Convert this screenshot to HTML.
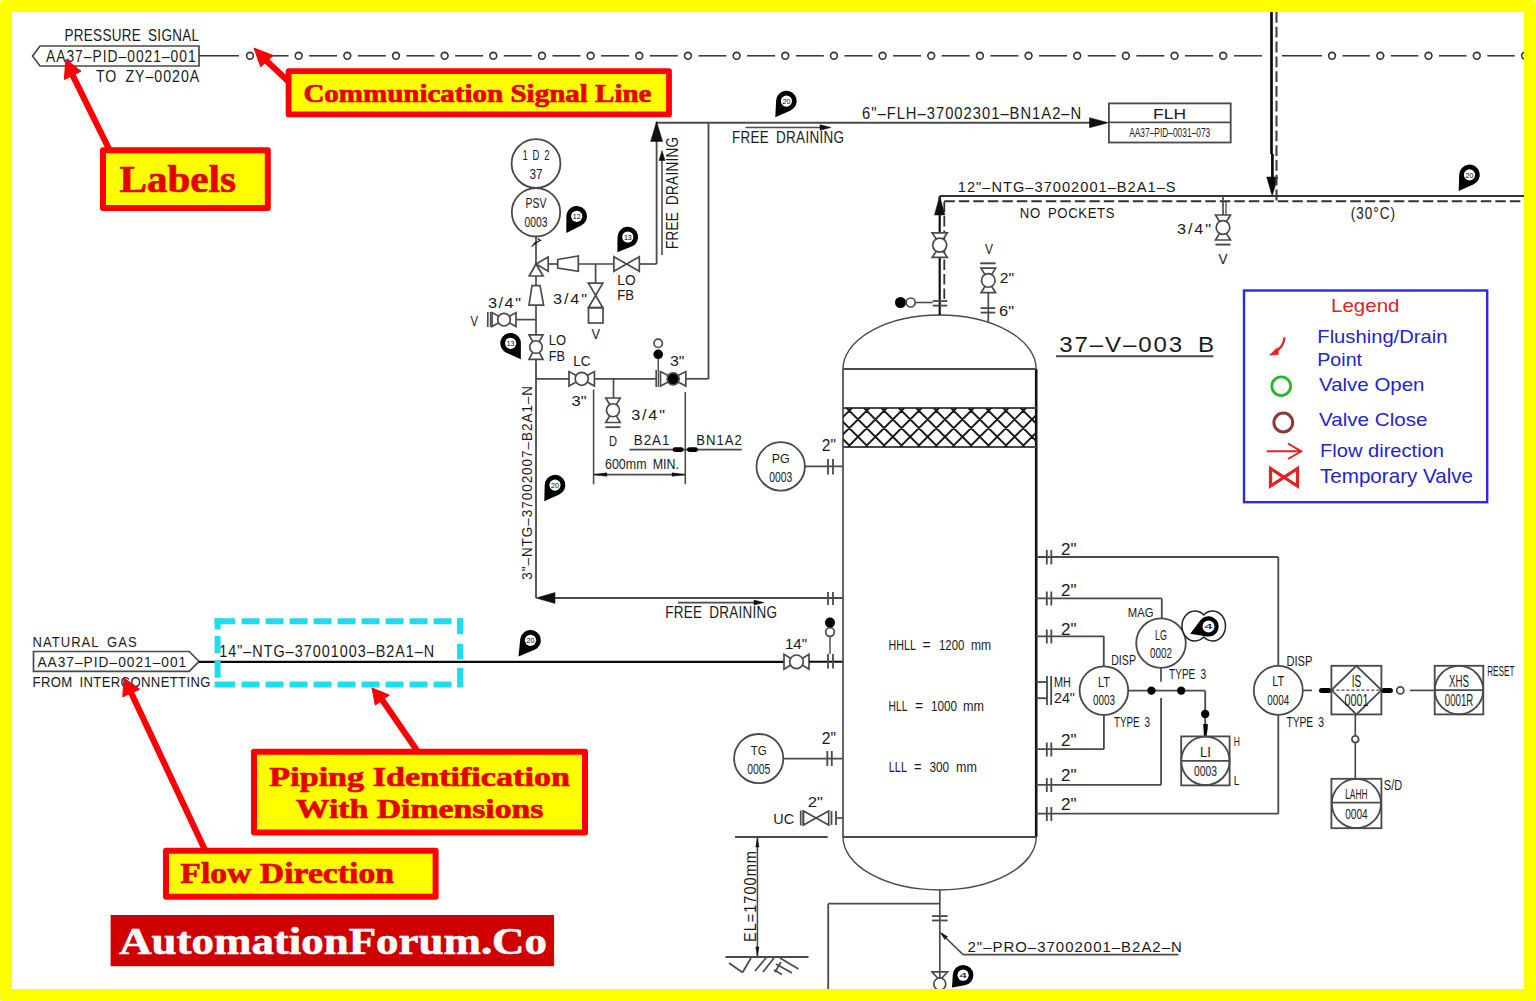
<!DOCTYPE html><html><head><meta charset="utf-8"><style>html,body{margin:0;padding:0;background:#fff;width:1536px;height:1001px;overflow:hidden}svg{display:block}</style></head><body>
<svg width="1536" height="1001" viewBox="0 0 1536 1001">
<rect x="0" y="0" width="1536" height="1001" fill="#fff"/>
<text transform="translate(64.5,40.5) scale(0.86,1)" x="0" y="0" font-family='"Liberation Sans", sans-serif' font-size="15.7" fill="#1a1a1a" textLength="156.4" lengthAdjust="spacing">PRESSURE SIGNAL</text>
<polygon points="32.5,56 40,46 199,46 199,66 40,66" stroke="#4a4a4a" stroke-width="1.69" fill="none" stroke-linejoin="miter"/>
<text transform="translate(46,61.5) scale(0.88,1)" x="0" y="0" font-family='"Liberation Sans", sans-serif' font-size="15.7" fill="#1a1a1a" textLength="170.08" lengthAdjust="spacing">AA37–PID–0021–001</text>
<text transform="translate(96,82) scale(0.9,1)" x="0" y="0" font-family='"Liberation Sans", sans-serif' font-size="15.7" fill="#1a1a1a" textLength="114.68" lengthAdjust="spacing">TO ZY–0020A</text>
<line x1="199" y1="55.8" x2="239" y2="55.8" stroke="#333" stroke-width="1.5"/>
<circle cx="250" cy="55.8" r="3.4" stroke="#333" stroke-width="1.6" fill="#fff"/>
<line x1="260.5" y1="55.8" x2="288.5" y2="55.8" stroke="#333" stroke-width="1.5"/>
<circle cx="298.66" cy="55.8" r="3.4" stroke="#333" stroke-width="1.6" fill="#fff"/>
<line x1="309.16" y1="55.8" x2="337.16" y2="55.8" stroke="#333" stroke-width="1.5"/>
<circle cx="347.32" cy="55.8" r="3.4" stroke="#333" stroke-width="1.6" fill="#fff"/>
<line x1="357.82" y1="55.8" x2="385.82" y2="55.8" stroke="#333" stroke-width="1.5"/>
<circle cx="395.98" cy="55.8" r="3.4" stroke="#333" stroke-width="1.6" fill="#fff"/>
<line x1="406.48" y1="55.8" x2="434.48" y2="55.8" stroke="#333" stroke-width="1.5"/>
<circle cx="444.64" cy="55.8" r="3.4" stroke="#333" stroke-width="1.6" fill="#fff"/>
<line x1="455.14" y1="55.8" x2="483.14" y2="55.8" stroke="#333" stroke-width="1.5"/>
<circle cx="493.3" cy="55.8" r="3.4" stroke="#333" stroke-width="1.6" fill="#fff"/>
<line x1="503.8" y1="55.8" x2="531.8" y2="55.8" stroke="#333" stroke-width="1.5"/>
<circle cx="541.96" cy="55.8" r="3.4" stroke="#333" stroke-width="1.6" fill="#fff"/>
<line x1="552.46" y1="55.8" x2="580.46" y2="55.8" stroke="#333" stroke-width="1.5"/>
<circle cx="590.62" cy="55.8" r="3.4" stroke="#333" stroke-width="1.6" fill="#fff"/>
<line x1="601.12" y1="55.8" x2="629.12" y2="55.8" stroke="#333" stroke-width="1.5"/>
<circle cx="639.28" cy="55.8" r="3.4" stroke="#333" stroke-width="1.6" fill="#fff"/>
<line x1="649.78" y1="55.8" x2="677.78" y2="55.8" stroke="#333" stroke-width="1.5"/>
<circle cx="687.94" cy="55.8" r="3.4" stroke="#333" stroke-width="1.6" fill="#fff"/>
<line x1="698.44" y1="55.8" x2="726.44" y2="55.8" stroke="#333" stroke-width="1.5"/>
<circle cx="736.6" cy="55.8" r="3.4" stroke="#333" stroke-width="1.6" fill="#fff"/>
<line x1="747.1" y1="55.8" x2="775.1" y2="55.8" stroke="#333" stroke-width="1.5"/>
<circle cx="785.26" cy="55.8" r="3.4" stroke="#333" stroke-width="1.6" fill="#fff"/>
<line x1="795.76" y1="55.8" x2="823.76" y2="55.8" stroke="#333" stroke-width="1.5"/>
<circle cx="833.92" cy="55.8" r="3.4" stroke="#333" stroke-width="1.6" fill="#fff"/>
<line x1="844.42" y1="55.8" x2="872.42" y2="55.8" stroke="#333" stroke-width="1.5"/>
<circle cx="882.58" cy="55.8" r="3.4" stroke="#333" stroke-width="1.6" fill="#fff"/>
<line x1="893.08" y1="55.8" x2="921.08" y2="55.8" stroke="#333" stroke-width="1.5"/>
<circle cx="931.24" cy="55.8" r="3.4" stroke="#333" stroke-width="1.6" fill="#fff"/>
<line x1="941.74" y1="55.8" x2="969.74" y2="55.8" stroke="#333" stroke-width="1.5"/>
<circle cx="979.9" cy="55.8" r="3.4" stroke="#333" stroke-width="1.6" fill="#fff"/>
<line x1="990.4" y1="55.8" x2="1018.4" y2="55.8" stroke="#333" stroke-width="1.5"/>
<circle cx="1028.56" cy="55.8" r="3.4" stroke="#333" stroke-width="1.6" fill="#fff"/>
<line x1="1039.06" y1="55.8" x2="1067.06" y2="55.8" stroke="#333" stroke-width="1.5"/>
<circle cx="1077.22" cy="55.8" r="3.4" stroke="#333" stroke-width="1.6" fill="#fff"/>
<line x1="1087.72" y1="55.8" x2="1115.72" y2="55.8" stroke="#333" stroke-width="1.5"/>
<circle cx="1125.88" cy="55.8" r="3.4" stroke="#333" stroke-width="1.6" fill="#fff"/>
<line x1="1136.38" y1="55.8" x2="1164.38" y2="55.8" stroke="#333" stroke-width="1.5"/>
<circle cx="1174.54" cy="55.8" r="3.4" stroke="#333" stroke-width="1.6" fill="#fff"/>
<line x1="1185.04" y1="55.8" x2="1213.04" y2="55.8" stroke="#333" stroke-width="1.5"/>
<circle cx="1223.2" cy="55.8" r="3.4" stroke="#333" stroke-width="1.6" fill="#fff"/>
<line x1="1234" y1="55.8" x2="1262" y2="55.8" stroke="#333" stroke-width="1.5"/>
<line x1="1282" y1="55.8" x2="1322" y2="55.8" stroke="#333" stroke-width="1.5"/>
<circle cx="1332" cy="55.8" r="3.4" stroke="#333" stroke-width="1.6" fill="#fff"/>
<line x1="1342.5" y1="55.8" x2="1370" y2="55.8" stroke="#333" stroke-width="1.5"/>
<circle cx="1380.3" cy="55.8" r="3.4" stroke="#333" stroke-width="1.6" fill="#fff"/>
<line x1="1390.8" y1="55.8" x2="1418.3" y2="55.8" stroke="#333" stroke-width="1.5"/>
<circle cx="1428.5" cy="55.8" r="3.4" stroke="#333" stroke-width="1.6" fill="#fff"/>
<line x1="1439" y1="55.8" x2="1466.5" y2="55.8" stroke="#333" stroke-width="1.5"/>
<circle cx="1476.8" cy="55.8" r="3.4" stroke="#333" stroke-width="1.6" fill="#fff"/>
<line x1="1487.3" y1="55.8" x2="1514.8" y2="55.8" stroke="#333" stroke-width="1.5"/>
<circle cx="1525" cy="55.8" r="3.4" stroke="#333" stroke-width="1.6" fill="#fff"/>
<line x1="1271.5" y1="12" x2="1271.5" y2="154" stroke="#0a0a0a" stroke-width="2.7"/>
<line x1="1272.4" y1="154" x2="1272.4" y2="182" stroke="#0a0a0a" stroke-width="2.7"/>
<polygon points="1272.2,196 1266.7,177 1277.7,177" stroke="#0a0a0a" stroke-width="0.5" fill="#0a0a0a" stroke-linejoin="miter"/>
<line x1="1276.5" y1="12" x2="1276.5" y2="201.2" stroke="#444" stroke-width="2.1" stroke-dasharray="10.8,4"/>
<line x1="656.6" y1="122.7" x2="1092" y2="122.7" stroke="#4a4a4a" stroke-width="2.08"/>
<polygon points="1108.5,122.7 1089.5,127.7 1089.5,117.7" stroke="#111" stroke-width="0.5" fill="#111" stroke-linejoin="miter"/>
<line x1="656.6" y1="122" x2="656.6" y2="264" stroke="#4a4a4a" stroke-width="1.82"/>
<polygon points="656.6,121.5 662.6,141.5 650.6,141.5" stroke="#111" stroke-width="0.5" fill="#111" stroke-linejoin="miter"/>
<line x1="662" y1="255" x2="662" y2="158" stroke="#4a4a4a" stroke-width="1.56"/>
<polygon points="662,150.5 665,160.5 659,160.5" stroke="#111" stroke-width="0.5" fill="#111" stroke-linejoin="miter"/>
<text transform="translate(677.9,249) rotate(-90) scale(0.86,1)" x="0" y="0" font-family='"Liberation Sans", sans-serif' font-size="15.7" fill="#1a1a1a" textLength="130.23" lengthAdjust="spacing">FREE DRAINING</text>
<line x1="708.5" y1="122" x2="708.5" y2="379" stroke="#4a4a4a" stroke-width="1.82"/>
<path d="M775.3,117.3 L776.11,100.6 A10.3,10.3 0 1 1 790.58,110.51 Z" fill="#000"/>
<circle cx="786.4" cy="101.1" r="5.6" fill="#fff"/>
<text x="786.4" y="104.1" font-family='"Liberation Sans", sans-serif' font-size="8" fill="#000" text-anchor="middle" textLength="7.84" lengthAdjust="spacingAndGlyphs">20</text>
<line x1="745.5" y1="127.5" x2="822" y2="127.5" stroke="#4a4a4a" stroke-width="1.69"/>
<polygon points="831,127.5 820,130.25 820,124.75" stroke="#111" stroke-width="0.5" fill="#111" stroke-linejoin="miter"/>
<text transform="translate(732,143) scale(0.86,1)" x="0" y="0" font-family='"Liberation Sans", sans-serif' font-size="15.7" fill="#1a1a1a" textLength="130.23" lengthAdjust="spacing">FREE DRAINING</text>
<text transform="translate(862,118.5) scale(0.94,1)" x="0" y="0" font-family='"Liberation Sans", sans-serif' font-size="15.7" fill="#1a1a1a" textLength="233.23" lengthAdjust="spacing">6"–FLH–37002301–BN1A2–N</text>
<rect x="1108.9" y="103.4" width="121.8" height="39.1" stroke="#4a4a4a" stroke-width="1.82" fill="none"/>
<line x1="1108.9" y1="122.4" x2="1230.7" y2="122.4" stroke="#4a4a4a" stroke-width="1.82"/>
<text transform="translate(1153,118.5) scale(1,1)" x="0" y="0" font-family='"Liberation Sans", sans-serif' font-size="15.26" fill="#1a1a1a" textLength="33" lengthAdjust="spacingAndGlyphs">FLH</text>
<text transform="translate(1129.2,137.3) scale(0.86,1)" x="0" y="0" font-family='"Liberation Sans", sans-serif' font-size="13.52" fill="#1a1a1a" textLength="94.19" lengthAdjust="spacingAndGlyphs">AA37–PID–0031–073</text>
<circle cx="536" cy="163.5" r="24.4" stroke="#4a4a4a" stroke-width="1.82" fill="none"/>
<text transform="translate(522.5,160) scale(0.86,1)" x="0" y="0" font-family='"Liberation Sans", sans-serif' font-size="13.81" fill="#1a1a1a" textLength="31.4" lengthAdjust="spacingAndGlyphs">1 D 2</text>
<text transform="translate(529.5,179) scale(0.85,1)" x="0" y="0" font-family='"Liberation Sans", sans-serif' font-size="13.81" fill="#1a1a1a" textLength="15.36" lengthAdjust="spacingAndGlyphs">37</text>
<circle cx="536" cy="212.3" r="24.2" stroke="#4a4a4a" stroke-width="1.82" fill="none"/>
<text transform="translate(525.5,208) scale(0.76,1)" x="0" y="0" font-family='"Liberation Sans", sans-serif' font-size="13.81" fill="#1a1a1a" textLength="27.63" lengthAdjust="spacingAndGlyphs">PSV</text>
<text transform="translate(524.5,227) scale(0.86,1)" x="0" y="0" font-family='"Liberation Sans", sans-serif' font-size="13.81" fill="#1a1a1a" textLength="26.74" lengthAdjust="spacingAndGlyphs">0003</text>
<line x1="536" y1="236.5" x2="536" y2="264" stroke="#4a4a4a" stroke-width="1.69"/>
<polyline points="531.5,246.5 538,241.5 533.5,243.5 540.5,240.5 537.5,238.5" fill="none" stroke="#222" stroke-width="1.3"/>
<polygon points="536,264 548.2,257 548.2,271.3" stroke="#4a4a4a" stroke-width="1.69" fill="none" stroke-linejoin="miter"/>
<polygon points="536,264 529.2,276 543.1,276" stroke="#4a4a4a" stroke-width="1.69" fill="none" stroke-linejoin="miter"/>
<line x1="548.2" y1="264" x2="557.7" y2="264" stroke="#4a4a4a" stroke-width="1.69"/>
<polygon points="557.7,259.5 578.3,256 578.3,271.3 557.7,268" stroke="#4a4a4a" stroke-width="1.69" fill="none" stroke-linejoin="miter"/>
<line x1="578.3" y1="264" x2="613.9" y2="264" stroke="#4a4a4a" stroke-width="1.69"/>
<line x1="595.6" y1="264" x2="595.6" y2="283.2" stroke="#4a4a4a" stroke-width="1.69"/>
<polygon points="588.4,283.2 602.8,283.2 595.6,295.45" stroke="#4a4a4a" stroke-width="1.69" fill="none" stroke-linejoin="miter"/>
<polygon points="588.4,307.7 602.8,307.7 595.6,295.45" stroke="#4a4a4a" stroke-width="1.69" fill="none" stroke-linejoin="miter"/>
<rect x="588.5" y="307.7" width="14.5" height="15.3" stroke="#4a4a4a" stroke-width="1.69" fill="none"/>
<text transform="translate(591.5,339) scale(0.88,1)" x="0" y="0" font-family='"Liberation Sans", sans-serif' font-size="14.53" fill="#1a1a1a" textLength="9.69" lengthAdjust="spacingAndGlyphs">V</text>
<text transform="translate(553,303.5) scale(1.12,1)" x="0" y="0" font-family='"Liberation Sans", sans-serif' font-size="14.53" fill="#1a1a1a" textLength="30.36" lengthAdjust="spacing">3/4"</text>
<polygon points="613.9,256.8 613.9,271.2 626.6,264" stroke="#4a4a4a" stroke-width="1.69" fill="none" stroke-linejoin="miter"/>
<polygon points="639.3,256.8 639.3,271.2 626.6,264" stroke="#4a4a4a" stroke-width="1.69" fill="none" stroke-linejoin="miter"/>
<line x1="639.3" y1="264" x2="656.6" y2="264" stroke="#4a4a4a" stroke-width="1.69"/>
<text transform="translate(617.3,284.9) scale(0.98,1)" x="0" y="0" font-family='"Liberation Sans", sans-serif' font-size="13.95" fill="#1a1a1a" textLength="18.61" lengthAdjust="spacingAndGlyphs">LO</text>
<text transform="translate(617.3,300) scale(0.92,1)" x="0" y="0" font-family='"Liberation Sans", sans-serif' font-size="14.24" fill="#1a1a1a" textLength="18.2" lengthAdjust="spacingAndGlyphs">FB</text>
<line x1="536" y1="276" x2="536" y2="285.7" stroke="#4a4a4a" stroke-width="1.69"/>
<polygon points="532,285.7 540,285.7 543.6,305.2 529,305.2" stroke="#4a4a4a" stroke-width="1.69" fill="none" stroke-linejoin="miter"/>
<line x1="536" y1="305.2" x2="536" y2="334.8" stroke="#4a4a4a" stroke-width="1.69"/>
<line x1="516" y1="319.6" x2="536" y2="319.6" stroke="#4a4a4a" stroke-width="1.69"/>
<polygon points="492,312.6 492,326.6 499.2,322.6 499.2,316.6" stroke="#4a4a4a" stroke-width="1.69" fill="#fff" stroke-linejoin="miter"/>
<polygon points="516,312.6 516,326.6 508.8,322.6 508.8,316.6" stroke="#4a4a4a" stroke-width="1.69" fill="#fff" stroke-linejoin="miter"/>
<circle cx="504" cy="319.6" r="6.3" stroke="#4a4a4a" stroke-width="1.69" fill="#fff"/>
<line x1="487.8" y1="312" x2="487.8" y2="327" stroke="#4a4a4a" stroke-width="1.69"/>
<line x1="490.5" y1="312" x2="490.5" y2="327" stroke="#4a4a4a" stroke-width="1.3"/>
<text transform="translate(470.5,325.5) scale(0.77,1)" x="0" y="0" font-family='"Liberation Sans", sans-serif' font-size="14.53" fill="#1a1a1a" textLength="9.69" lengthAdjust="spacingAndGlyphs">V</text>
<text transform="translate(488,308) scale(1.12,1)" x="0" y="0" font-family='"Liberation Sans", sans-serif' font-size="14.53" fill="#1a1a1a" textLength="29.46" lengthAdjust="spacing">3/4"</text>
<polygon points="529,334.8 543,334.8 539,342.25 533,342.25" stroke="#4a4a4a" stroke-width="1.69" fill="#fff" stroke-linejoin="miter"/>
<polygon points="529,359.3 543,359.3 539,351.85 533,351.85" stroke="#4a4a4a" stroke-width="1.69" fill="#fff" stroke-linejoin="miter"/>
<circle cx="536" cy="347.05" r="6.3" stroke="#4a4a4a" stroke-width="1.69" fill="#fff"/>
<text transform="translate(548.7,345) scale(0.94,1)" x="0" y="0" font-family='"Liberation Sans", sans-serif' font-size="13.81" fill="#1a1a1a" textLength="18.42" lengthAdjust="spacingAndGlyphs">LO</text>
<text transform="translate(548.7,361) scale(0.92,1)" x="0" y="0" font-family='"Liberation Sans", sans-serif' font-size="13.81" fill="#1a1a1a" textLength="17.64" lengthAdjust="spacingAndGlyphs">FB</text>
<path d="M566.3,233 L566.4,216.24 A10.3,10.3 0 1 1 581.3,225.52 Z" fill="#000"/>
<circle cx="576.7" cy="216.3" r="5.6" fill="#fff"/>
<text x="576.7" y="219.3" font-family='"Liberation Sans", sans-serif' font-size="8" fill="#000" text-anchor="middle" textLength="7.84" lengthAdjust="spacingAndGlyphs">12</text>
<path d="M617.4,252.2 L617.5,236.93 A10.3,10.3 0 1 1 631.59,246.58 Z" fill="#000"/>
<circle cx="627.8" cy="237" r="5.6" fill="#fff"/>
<text x="627.8" y="240" font-family='"Liberation Sans", sans-serif' font-size="8" fill="#000" text-anchor="middle" textLength="7.84" lengthAdjust="spacingAndGlyphs">13</text>
<path d="M520.8,359.3 L506.31,352.66 A10.3,10.3 0 1 1 520.9,343.36 Z" fill="#000"/>
<circle cx="510.6" cy="343.3" r="5.6" fill="#fff"/>
<text x="510.6" y="346.3" font-family='"Liberation Sans", sans-serif' font-size="8" fill="#000" text-anchor="middle" textLength="7.84" lengthAdjust="spacingAndGlyphs">13</text>
<line x1="536" y1="359.3" x2="536" y2="598" stroke="#4a4a4a" stroke-width="1.82"/>
<line x1="536" y1="378.8" x2="569" y2="378.8" stroke="#4a4a4a" stroke-width="1.69"/>
<polygon points="569,371.6 569,386 576.7,381.8 576.7,375.8" stroke="#4a4a4a" stroke-width="1.69" fill="#fff" stroke-linejoin="miter"/>
<polygon points="594.4,371.6 594.4,386 586.7,381.8 586.7,375.8" stroke="#4a4a4a" stroke-width="1.69" fill="#fff" stroke-linejoin="miter"/>
<circle cx="581.7" cy="378.8" r="6.5" stroke="#4a4a4a" stroke-width="1.69" fill="#fff"/>
<text transform="translate(573.2,366.1) scale(0.98,1)" x="0" y="0" font-family='"Liberation Sans", sans-serif' font-size="13.81" fill="#1a1a1a" textLength="17.65" lengthAdjust="spacingAndGlyphs">LC</text>
<text transform="translate(571.5,406.4) scale(1,1)" x="0" y="0" font-family='"Liberation Sans", sans-serif' font-size="14.53" fill="#1a1a1a" textLength="15" lengthAdjust="spacingAndGlyphs">3"</text>
<line x1="594.4" y1="378.8" x2="656.2" y2="378.8" stroke="#4a4a4a" stroke-width="1.69"/>
<line x1="613.5" y1="378.8" x2="613.5" y2="398" stroke="#4a4a4a" stroke-width="1.69"/>
<polygon points="605.8,398 620.2,398 616,405.25 610,405.25" stroke="#4a4a4a" stroke-width="1.69" fill="#fff" stroke-linejoin="miter"/>
<polygon points="605.8,422.5 620.2,422.5 616,415.25 610,415.25" stroke="#4a4a4a" stroke-width="1.69" fill="#fff" stroke-linejoin="miter"/>
<circle cx="613" cy="410.25" r="6.5" stroke="#4a4a4a" stroke-width="1.69" fill="#fff"/>
<line x1="605.5" y1="427.2" x2="620.5" y2="427.2" stroke="#4a4a4a" stroke-width="1.82"/>
<text transform="translate(609,445.8) scale(0.78,1)" x="0" y="0" font-family='"Liberation Sans", sans-serif' font-size="14.24" fill="#1a1a1a" textLength="10.29" lengthAdjust="spacingAndGlyphs">D</text>
<text transform="translate(631.2,419.5) scale(1.12,1)" x="0" y="0" font-family='"Liberation Sans", sans-serif' font-size="14.53" fill="#1a1a1a" textLength="30.18" lengthAdjust="spacing">3/4"</text>
<line x1="656.2" y1="370" x2="656.2" y2="387" stroke="#4a4a4a" stroke-width="1.69"/>
<line x1="658.4" y1="370" x2="658.4" y2="387" stroke="#4a4a4a" stroke-width="1.3"/>
<polygon points="660.5,371.6 660.5,386 668.65,381.8 668.65,375.8" stroke="#4a4a4a" stroke-width="1.69" fill="#fff" stroke-linejoin="miter"/>
<polygon points="685.8,371.6 685.8,386 677.65,381.8 677.65,375.8" stroke="#4a4a4a" stroke-width="1.69" fill="#fff" stroke-linejoin="miter"/>
<circle cx="673.15" cy="378.8" r="6" stroke="#4a4a4a" stroke-width="1.69" fill="#000"/>
<line x1="685.8" y1="378.8" x2="708.5" y2="378.8" stroke="#4a4a4a" stroke-width="1.69"/>
<line x1="658.2" y1="370" x2="658.2" y2="358.5" stroke="#4a4a4a" stroke-width="1.43"/>
<circle cx="658.2" cy="354.3" r="4.8" fill="#000"/>
<circle cx="658.2" cy="343.3" r="4.2" stroke="#4a4a4a" stroke-width="1.69" fill="#fff"/>
<text transform="translate(670,366) scale(1,1)" x="0" y="0" font-family='"Liberation Sans", sans-serif' font-size="13.81" fill="#1a1a1a" textLength="14.5" lengthAdjust="spacingAndGlyphs">3"</text>
<line x1="593.6" y1="389.5" x2="593.6" y2="484.3" stroke="#4a4a4a" stroke-width="1.56"/>
<line x1="685.3" y1="392" x2="685.3" y2="484.3" stroke="#4a4a4a" stroke-width="1.56"/>
<line x1="594" y1="474.6" x2="685" y2="474.6" stroke="#4a4a4a" stroke-width="1.56"/>
<polygon points="593.8,474.6 606.8,472.85 606.8,476.35" stroke="#111" stroke-width="0.5" fill="#111" stroke-linejoin="miter"/>
<polygon points="685.1,474.6 672.1,476.35 672.1,472.85" stroke="#111" stroke-width="0.5" fill="#111" stroke-linejoin="miter"/>
<text transform="translate(605,469) scale(0.86,1)" x="0" y="0" font-family='"Liberation Sans", sans-serif' font-size="14.83" fill="#1a1a1a" textLength="86.05" lengthAdjust="spacingAndGlyphs">600mm MIN.</text>
<text transform="translate(633.7,445.3) scale(0.97,1)" x="0" y="0" font-family='"Liberation Sans", sans-serif' font-size="13.81" fill="#1a1a1a" textLength="36.89" lengthAdjust="spacing">B2A1</text>
<text transform="translate(696.3,445.3) scale(0.95,1)" x="0" y="0" font-family='"Liberation Sans", sans-serif' font-size="13.81" fill="#1a1a1a" textLength="47.98" lengthAdjust="spacing">BN1A2</text>
<line x1="629.5" y1="449.6" x2="741.7" y2="449.6" stroke="#4a4a4a" stroke-width="1.69"/>
<rect x="672.6" y="447.3" width="11" height="4.6" rx="2.3" fill="#000"/>
<rect x="687" y="447.3" width="11" height="4.6" rx="2.3" fill="#000"/>
<path d="M544.3,501.2 L544.7,484.85 A10.3,10.3 0 1 1 559.22,494.5 Z" fill="#000"/>
<circle cx="555" cy="485.1" r="5.6" fill="#fff"/>
<text x="555" y="488.1" font-family='"Liberation Sans", sans-serif' font-size="8" fill="#000" text-anchor="middle" textLength="7.84" lengthAdjust="spacingAndGlyphs">20</text>
<text transform="translate(532.05,579.8) rotate(-90) scale(0.88,1)" x="0" y="0" font-family='"Liberation Sans", sans-serif' font-size="15.26" fill="#1a1a1a" textLength="220.29" lengthAdjust="spacing">3"–NTG–37002007–B2A1–N</text>
<line x1="540" y1="598" x2="843" y2="598" stroke="#4a4a4a" stroke-width="1.82"/>
<polygon points="536,598 555,592.5 555,603.5" stroke="#111" stroke-width="0.5" fill="#111" stroke-linejoin="miter"/>
<line x1="828" y1="592" x2="828" y2="605" stroke="#4a4a4a" stroke-width="1.82"/>
<line x1="833" y1="592" x2="833" y2="605" stroke="#4a4a4a" stroke-width="1.82"/>
<line x1="678" y1="602.6" x2="756" y2="602.6" stroke="#4a4a4a" stroke-width="1.56"/>
<polygon points="764,602.6 754,605.1 754,600.1" stroke="#111" stroke-width="0.5" fill="#111" stroke-linejoin="miter"/>
<text transform="translate(665.2,618.4) scale(0.86,1)" x="0" y="0" font-family='"Liberation Sans", sans-serif' font-size="15.7" fill="#1a1a1a" textLength="130" lengthAdjust="spacing">FREE DRAINING</text>
<path d="M518.5,656.6 L520.25,639.26 A10.3,10.3 0 1 1 534.53,649.78 Z" fill="#000"/>
<circle cx="530.5" cy="640.3" r="5.6" fill="#fff"/>
<text x="530.5" y="643.3" font-family='"Liberation Sans", sans-serif' font-size="8" fill="#000" text-anchor="middle" textLength="7.84" lengthAdjust="spacingAndGlyphs">20</text>
<text transform="translate(32.6,647.3) scale(0.88,1)" x="0" y="0" font-family='"Liberation Sans", sans-serif' font-size="14.83" fill="#1a1a1a" textLength="118.2" lengthAdjust="spacing">NATURAL GAS</text>
<polygon points="33.5,651.5 189.2,651.5 199.1,661.4 189.2,671.3 33.5,671.3" stroke="#4a4a4a" stroke-width="1.69" fill="none" stroke-linejoin="miter"/>
<text transform="translate(37.4,667.4) scale(0.9,1)" x="0" y="0" font-family='"Liberation Sans", sans-serif' font-size="15.26" fill="#1a1a1a" textLength="165.4" lengthAdjust="spacing">AA37–PID–0021–001</text>
<text transform="translate(32.6,686.9) scale(0.86,1)" x="0" y="0" font-family='"Liberation Sans", sans-serif' font-size="15.26" fill="#1a1a1a" textLength="206.86" lengthAdjust="spacing">FROM INTERCONNETTING</text>
<line x1="199" y1="661.8" x2="784" y2="661.8" stroke="#0a0a0a" stroke-width="2.3"/>
<text transform="translate(219.2,657.4) scale(0.9,1)" x="0" y="0" font-family='"Liberation Sans", sans-serif' font-size="15.99" fill="#1a1a1a" textLength="238.93" lengthAdjust="spacing">14"–NTG–37001003–B2A1–N</text>
<polygon points="784,654.3 784,669.3 791.2,664.8 791.2,658.8" stroke="#4a4a4a" stroke-width="1.69" fill="#fff" stroke-linejoin="miter"/>
<polygon points="809,654.3 809,669.3 801.8,664.8 801.8,658.8" stroke="#4a4a4a" stroke-width="1.69" fill="#fff" stroke-linejoin="miter"/>
<circle cx="796.5" cy="661.8" r="6.8" stroke="#4a4a4a" stroke-width="1.69" fill="#fff"/>
<line x1="809" y1="661.8" x2="843" y2="661.8" stroke="#0a0a0a" stroke-width="2"/>
<text transform="translate(785,649.4) scale(1,1)" x="0" y="0" font-family='"Liberation Sans", sans-serif' font-size="14.53" fill="#1a1a1a" textLength="22" lengthAdjust="spacingAndGlyphs">14"</text>
<line x1="828" y1="654" x2="828" y2="668.6" stroke="#4a4a4a" stroke-width="1.82"/>
<line x1="833" y1="654" x2="833" y2="668.6" stroke="#4a4a4a" stroke-width="1.82"/>
<line x1="830" y1="654" x2="830" y2="636.5" stroke="#4a4a4a" stroke-width="1.43"/>
<circle cx="830" cy="632" r="4.3" stroke="#4a4a4a" stroke-width="1.69" fill="#fff"/>
<circle cx="830" cy="622.6" r="5" fill="#000"/>
<line x1="843" y1="369" x2="843" y2="837" stroke="#4a4a4a" stroke-width="1.69"/>
<line x1="1036.2" y1="369" x2="1036.2" y2="837" stroke="#111" stroke-width="2.6"/>
<line x1="843" y1="369" x2="1036.2" y2="369" stroke="#4a4a4a" stroke-width="1.82"/>
<line x1="843" y1="837" x2="1036.2" y2="837" stroke="#4a4a4a" stroke-width="1.82"/>
<path d="M843,369 A96.6,54 0 0 1 1036.2,369" fill="none" stroke="#4a4a4a" stroke-width="1.4"/>
<path d="M843,837 A96.6,53 0 0 0 1036.2,837" fill="none" stroke="#4a4a4a" stroke-width="1.4"/>
<line x1="843" y1="408" x2="1036.2" y2="408" stroke="#4a4a4a" stroke-width="1.82"/>
<line x1="843" y1="447" x2="1036.2" y2="447" stroke="#4a4a4a" stroke-width="1.82"/>
<clipPath id="pk"><rect x="843" y="408" width="193.2" height="39"/></clipPath>
<path clip-path="url(#pk)" d="M724.8,408 L763.8,447 M691.2,447 L730.2,408 M742.2,408 L781.2,447 M708.6,447 L747.6,408 M759.6,408 L798.6,447 M726,447 L765,408 M777,408 L816,447 M743.4,447 L782.4,408 M794.4,408 L833.4,447 M760.8,447 L799.8,408 M811.8,408 L850.8,447 M778.2,447 L817.2,408 M829.2,408 L868.2,447 M795.6,447 L834.6,408 M846.6,408 L885.6,447 M813,447 L852,408 M864,408 L903,447 M830.4,447 L869.4,408 M881.4,408 L920.4,447 M847.8,447 L886.8,408 M898.8,408 L937.8,447 M865.2,447 L904.2,408 M916.2,408 L955.2,447 M882.6,447 L921.6,408 M933.6,408 L972.6,447 M900,447 L939,408 M951,408 L990,447 M917.4,447 L956.4,408 M968.4,408 L1007.4,447 M934.8,447 L973.8,408 M985.8,408 L1024.8,447 M952.2,447 L991.2,408 M1003.2,408 L1042.2,447 M969.6,447 L1008.6,408 M1020.6,408 L1059.6,447 M987,447 L1026,408 M1038,408 L1077,447 M1004.4,447 L1043.4,408 M1055.4,408 L1094.4,447 M1021.8,447 L1060.8,408" stroke="#1a1a1a" stroke-width="1.9" fill="none"/>
<text transform="translate(1059.3,352.3) scale(1.12,1)" x="0" y="0" font-family='"Liberation Sans", sans-serif' font-size="21.51" fill="#1a1a1a" textLength="138.13" lengthAdjust="spacing">37–V–003 B</text>
<line x1="1056" y1="356.2" x2="1213.5" y2="356.2" stroke="#4a4a4a" stroke-width="1.95"/>
<line x1="939.7" y1="196" x2="939.7" y2="315" stroke="#111" stroke-width="2.2"/>
<line x1="944.3" y1="201.5" x2="944.3" y2="301" stroke="#333" stroke-width="1.8" stroke-dasharray="10.5,4"/>
<polygon points="939.7,196 944.95,215 934.45,215" stroke="#111" stroke-width="0.5" fill="#111" stroke-linejoin="miter"/>
<polygon points="932.1,232.8 947.3,232.8 942.7,239.6 936.7,239.6" stroke="#4a4a4a" stroke-width="1.69" fill="#fff" stroke-linejoin="miter"/>
<polygon points="932.1,257.4 947.3,257.4 942.7,250.6 936.7,250.6" stroke="#4a4a4a" stroke-width="1.69" fill="#fff" stroke-linejoin="miter"/>
<circle cx="939.7" cy="245.1" r="7" stroke="#4a4a4a" stroke-width="1.69" fill="#fff"/>
<line x1="932.7" y1="301" x2="947.3" y2="301" stroke="#4a4a4a" stroke-width="1.82"/>
<line x1="932.7" y1="305.6" x2="947.3" y2="305.6" stroke="#4a4a4a" stroke-width="1.82"/>
<line x1="916" y1="302.5" x2="932.7" y2="302.5" stroke="#4a4a4a" stroke-width="1.56"/>
<circle cx="900.5" cy="302.5" r="5.5" fill="#000"/>
<circle cx="910.7" cy="302.5" r="4.5" stroke="#4a4a4a" stroke-width="1.69" fill="#fff"/>
<line x1="988.3" y1="292.7" x2="988.3" y2="323" stroke="#4a4a4a" stroke-width="1.69"/>
<polygon points="981,268.2 995.6,268.2 991.3,275.15 985.3,275.15" stroke="#4a4a4a" stroke-width="1.69" fill="#fff" stroke-linejoin="miter"/>
<polygon points="981,292.7 995.6,292.7 991.3,285.75 985.3,285.75" stroke="#4a4a4a" stroke-width="1.69" fill="#fff" stroke-linejoin="miter"/>
<circle cx="988.3" cy="280.45" r="6.8" stroke="#4a4a4a" stroke-width="1.69" fill="#fff"/>
<line x1="980.2" y1="263.3" x2="995.6" y2="263.3" stroke="#4a4a4a" stroke-width="1.95"/>
<line x1="980.6" y1="308.1" x2="995.2" y2="308.1" stroke="#4a4a4a" stroke-width="1.82"/>
<line x1="980.6" y1="312.6" x2="995.2" y2="312.6" stroke="#4a4a4a" stroke-width="1.82"/>
<text transform="translate(985,254.2) scale(0.84,1)" x="0" y="0" font-family='"Liberation Sans", sans-serif' font-size="14.24" fill="#1a1a1a" textLength="9.5" lengthAdjust="spacingAndGlyphs">V</text>
<text transform="translate(999.8,282.9) scale(1,1)" x="0" y="0" font-family='"Liberation Sans", sans-serif' font-size="15.26" fill="#1a1a1a" textLength="14.2" lengthAdjust="spacingAndGlyphs">2"</text>
<text transform="translate(999,315.8) scale(1,1)" x="0" y="0" font-family='"Liberation Sans", sans-serif' font-size="15.26" fill="#1a1a1a" textLength="15" lengthAdjust="spacingAndGlyphs">6"</text>
<line x1="939.7" y1="196" x2="1524" y2="196" stroke="#333" stroke-width="1.8"/>
<line x1="944.3" y1="201.2" x2="1524" y2="201.2" stroke="#333" stroke-width="2" stroke-dasharray="10.5,4"/>
<text transform="translate(957.8,191.5) scale(0.96,1)" x="0" y="0" font-family='"Liberation Sans", sans-serif' font-size="15.26" fill="#1a1a1a" textLength="226.85" lengthAdjust="spacing">12"–NTG–37002001–B2A1–S</text>
<text transform="translate(1019.8,218) scale(0.86,1)" x="0" y="0" font-family='"Liberation Sans", sans-serif' font-size="15.26" fill="#1a1a1a" textLength="110.12" lengthAdjust="spacing">NO POCKETS</text>
<text transform="translate(1350.8,218.5) scale(0.86,1)" x="0" y="0" font-family='"Liberation Sans", sans-serif' font-size="15.7" fill="#1a1a1a" textLength="51.34" lengthAdjust="spacing">(30°C)</text>
<path d="M1458.7,191 L1459.2,174.58 A10.3,10.3 0 1 1 1473.7,184.31 Z" fill="#000"/>
<circle cx="1469.5" cy="174.9" r="5.6" fill="#fff"/>
<text x="1469.5" y="177.9" font-family='"Liberation Sans", sans-serif' font-size="8" fill="#000" text-anchor="middle" textLength="7.84" lengthAdjust="spacingAndGlyphs">20</text>
<line x1="1223" y1="196" x2="1223" y2="215" stroke="#4a4a4a" stroke-width="1.69"/>
<line x1="1226" y1="201.4" x2="1226" y2="215" stroke="#4a4a4a" stroke-width="1.3"/>
<polygon points="1215.5,215 1230.5,215 1226,222.2 1220,222.2" stroke="#4a4a4a" stroke-width="1.69" fill="#fff" stroke-linejoin="miter"/>
<polygon points="1215.5,240 1230.5,240 1226,232.8 1220,232.8" stroke="#4a4a4a" stroke-width="1.69" fill="#fff" stroke-linejoin="miter"/>
<circle cx="1223" cy="227.5" r="6.8" stroke="#4a4a4a" stroke-width="1.69" fill="#fff"/>
<line x1="1215.5" y1="244.6" x2="1230.5" y2="244.6" stroke="#4a4a4a" stroke-width="1.95"/>
<text transform="translate(1218.5,263.6) scale(0.93,1)" x="0" y="0" font-family='"Liberation Sans", sans-serif' font-size="14.53" fill="#1a1a1a" textLength="9.69" lengthAdjust="spacingAndGlyphs">V</text>
<text transform="translate(1177,234) scale(1.12,1)" x="0" y="0" font-family='"Liberation Sans", sans-serif' font-size="14.53" fill="#1a1a1a" textLength="30.36" lengthAdjust="spacing">3/4"</text>
<circle cx="780.7" cy="466.4" r="24.2" stroke="#4a4a4a" stroke-width="1.82" fill="none"/>
<text transform="translate(771.7,463) scale(0.95,1)" x="0" y="0" font-family='"Liberation Sans", sans-serif' font-size="13.08" fill="#1a1a1a" textLength="18.9" lengthAdjust="spacingAndGlyphs">PG</text>
<text transform="translate(769.2,482) scale(0.86,1)" x="0" y="0" font-family='"Liberation Sans", sans-serif' font-size="13.81" fill="#1a1a1a" textLength="26.74" lengthAdjust="spacingAndGlyphs">0003</text>
<line x1="805" y1="466.4" x2="843" y2="466.4" stroke="#4a4a4a" stroke-width="1.69"/>
<line x1="828" y1="459" x2="828" y2="474.5" stroke="#4a4a4a" stroke-width="1.82"/>
<line x1="833" y1="459" x2="833" y2="474.5" stroke="#4a4a4a" stroke-width="1.82"/>
<text transform="translate(821.8,451.4) scale(0.97,1)" x="0" y="0" font-family='"Liberation Sans", sans-serif' font-size="15.99" fill="#1a1a1a" textLength="14.57" lengthAdjust="spacingAndGlyphs">2"</text>
<text transform="translate(888.6,650.2) scale(0.86,1)" x="0" y="0" font-family='"Liberation Sans", sans-serif' font-size="15.12" fill="#1a1a1a" textLength="31.86" lengthAdjust="spacingAndGlyphs">HHLL</text>
<text transform="translate(922.5,650.2) scale(0.91,1)" x="0" y="0" font-family='"Liberation Sans", sans-serif' font-size="15.12" fill="#1a1a1a" textLength="8.83" lengthAdjust="spacingAndGlyphs">=</text>
<text transform="translate(939,650.2) scale(0.86,1)" x="0" y="0" font-family='"Liberation Sans", sans-serif' font-size="15.12" fill="#1a1a1a" textLength="29.65" lengthAdjust="spacingAndGlyphs">1200</text>
<text transform="translate(971,650.2) scale(0.8,1)" x="0" y="0" font-family='"Liberation Sans", sans-serif' font-size="15.12" fill="#1a1a1a" textLength="25.18" lengthAdjust="spacingAndGlyphs">mm</text>
<text transform="translate(888.6,710.6) scale(0.68,1)" x="0" y="0" font-family='"Liberation Sans", sans-serif' font-size="15.12" fill="#1a1a1a" textLength="27.73" lengthAdjust="spacingAndGlyphs">HLL</text>
<text transform="translate(915,710.6) scale(0.91,1)" x="0" y="0" font-family='"Liberation Sans", sans-serif' font-size="15.12" fill="#1a1a1a" textLength="8.83" lengthAdjust="spacingAndGlyphs">=</text>
<text transform="translate(931,710.6) scale(0.86,1)" x="0" y="0" font-family='"Liberation Sans", sans-serif' font-size="15.12" fill="#1a1a1a" textLength="30.23" lengthAdjust="spacingAndGlyphs">1000</text>
<text transform="translate(963,710.6) scale(0.83,1)" x="0" y="0" font-family='"Liberation Sans", sans-serif' font-size="15.12" fill="#1a1a1a" textLength="25.18" lengthAdjust="spacingAndGlyphs">mm</text>
<text transform="translate(888.8,771.7) scale(0.72,1)" x="0" y="0" font-family='"Liberation Sans", sans-serif' font-size="15.12" fill="#1a1a1a" textLength="25.22" lengthAdjust="spacingAndGlyphs">LLL</text>
<text transform="translate(914,771.7) scale(0.85,1)" x="0" y="0" font-family='"Liberation Sans", sans-serif' font-size="15.12" fill="#1a1a1a" textLength="8.83" lengthAdjust="spacingAndGlyphs">=</text>
<text transform="translate(929.4,771.7) scale(0.78,1)" x="0" y="0" font-family='"Liberation Sans", sans-serif' font-size="15.12" fill="#1a1a1a" textLength="25.22" lengthAdjust="spacingAndGlyphs">300</text>
<text transform="translate(956,771.7) scale(0.83,1)" x="0" y="0" font-family='"Liberation Sans", sans-serif' font-size="15.12" fill="#1a1a1a" textLength="25.18" lengthAdjust="spacingAndGlyphs">mm</text>
<circle cx="758.7" cy="758.6" r="24.6" stroke="#4a4a4a" stroke-width="1.82" fill="none"/>
<text transform="translate(750.7,755) scale(0.88,1)" x="0" y="0" font-family='"Liberation Sans", sans-serif' font-size="13.08" fill="#1a1a1a" textLength="18.17" lengthAdjust="spacingAndGlyphs">TG</text>
<text transform="translate(747.2,774) scale(0.86,1)" x="0" y="0" font-family='"Liberation Sans", sans-serif' font-size="13.81" fill="#1a1a1a" textLength="26.74" lengthAdjust="spacingAndGlyphs">0005</text>
<line x1="783.3" y1="758.6" x2="843" y2="758.6" stroke="#4a4a4a" stroke-width="1.69"/>
<line x1="827.3" y1="751" x2="827.3" y2="766" stroke="#4a4a4a" stroke-width="1.82"/>
<line x1="831.8" y1="751" x2="831.8" y2="766" stroke="#4a4a4a" stroke-width="1.82"/>
<text transform="translate(821.7,743.8) scale(0.98,1)" x="0" y="0" font-family='"Liberation Sans", sans-serif' font-size="15.99" fill="#1a1a1a" textLength="14.57" lengthAdjust="spacingAndGlyphs">2"</text>
<polygon points="803.5,811 803.5,825 816.1,818" stroke="#4a4a4a" stroke-width="1.69" fill="none" stroke-linejoin="miter"/>
<polygon points="828.7,811 828.7,825 816.1,818" stroke="#4a4a4a" stroke-width="1.69" fill="none" stroke-linejoin="miter"/>
<line x1="800.7" y1="810.5" x2="800.7" y2="825.5" stroke="#4a4a4a" stroke-width="1.69"/>
<line x1="803" y1="810.5" x2="803" y2="825.5" stroke="#4a4a4a" stroke-width="1.3"/>
<line x1="831.5" y1="811" x2="831.5" y2="825" stroke="#4a4a4a" stroke-width="1.82"/>
<line x1="836" y1="811" x2="836" y2="825" stroke="#4a4a4a" stroke-width="1.82"/>
<line x1="836" y1="818" x2="843" y2="818" stroke="#4a4a4a" stroke-width="1.69"/>
<text transform="translate(773.3,824) scale(0.96,1)" x="0" y="0" font-family='"Liberation Sans", sans-serif' font-size="14.97" fill="#1a1a1a" textLength="21.62" lengthAdjust="spacingAndGlyphs">UC</text>
<text transform="translate(807.7,806.7) scale(1,1)" x="0" y="0" font-family='"Liberation Sans", sans-serif' font-size="14.53" fill="#1a1a1a" textLength="15.3" lengthAdjust="spacingAndGlyphs">2"</text>
<line x1="735" y1="837" x2="827.7" y2="837" stroke="#4a4a4a" stroke-width="1.82"/>
<line x1="757.4" y1="837" x2="757.4" y2="957" stroke="#4a4a4a" stroke-width="1.56"/>
<polygon points="757.4,838 759,847 755.8,847" stroke="#111" stroke-width="0.5" fill="#111" stroke-linejoin="miter"/>
<polygon points="757.4,956 755.8,947 759,947" stroke="#111" stroke-width="0.5" fill="#111" stroke-linejoin="miter"/>
<line x1="725.4" y1="957" x2="808.5" y2="957" stroke="#4a4a4a" stroke-width="1.95"/>
<line x1="729" y1="963" x2="742.5" y2="972.5" stroke="#4a4a4a" stroke-width="1.69"/>
<line x1="742.5" y1="972.5" x2="751" y2="958" stroke="#4a4a4a" stroke-width="1.69"/>
<line x1="755" y1="971" x2="766" y2="958" stroke="#4a4a4a" stroke-width="1.69"/>
<line x1="763" y1="972" x2="774" y2="958" stroke="#4a4a4a" stroke-width="1.69"/>
<line x1="775" y1="972" x2="781" y2="962" stroke="#4a4a4a" stroke-width="1.69"/>
<line x1="780" y1="958" x2="798.5" y2="969" stroke="#4a4a4a" stroke-width="1.69"/>
<line x1="776" y1="964" x2="792" y2="973" stroke="#4a4a4a" stroke-width="1.69"/>
<line x1="774" y1="970" x2="782" y2="974.5" stroke="#4a4a4a" stroke-width="1.69"/>
<text transform="translate(755.7,942) rotate(-90) scale(0.91,1)" x="0" y="0" font-family='"Liberation Sans", sans-serif' font-size="15.99" fill="#1a1a1a" textLength="99.86" lengthAdjust="spacing">EL=1700mm</text>
<line x1="939.8" y1="890" x2="939.8" y2="989" stroke="#4a4a4a" stroke-width="1.69"/>
<line x1="828.2" y1="903.7" x2="939.8" y2="903.7" stroke="#4a4a4a" stroke-width="1.82"/>
<line x1="828.2" y1="903.7" x2="828.2" y2="989" stroke="#4a4a4a" stroke-width="1.82"/>
<line x1="932" y1="916.1" x2="947.6" y2="916.1" stroke="#4a4a4a" stroke-width="1.82"/>
<line x1="932" y1="920.5" x2="947.6" y2="920.5" stroke="#4a4a4a" stroke-width="1.82"/>
<line x1="941" y1="933.2" x2="963.1" y2="954.6" stroke="#4a4a4a" stroke-width="1.56"/>
<polygon points="940.5,932.5 947.63,936.64 944.84,939.51" stroke="#111" stroke-width="0.5" fill="#111" stroke-linejoin="miter"/>
<line x1="963.1" y1="954.6" x2="1178.4" y2="954.6" stroke="#4a4a4a" stroke-width="1.69"/>
<text transform="translate(967.5,951.5) scale(1.05,1)" x="0" y="0" font-family='"Liberation Sans", sans-serif' font-size="14.24" fill="#1a1a1a" textLength="204.12" lengthAdjust="spacing">2"–PRO–37002001–B2A2–N</text>
<polygon points="932,971.9 947.6,971.9 942,978 937.6,978" stroke="#4a4a4a" stroke-width="1.69" fill="none" stroke-linejoin="miter"/>
<circle cx="939.8" cy="984" r="6" stroke="#4a4a4a" stroke-width="1.69" fill="#fff"/>
<path d="M952,987.4 L952.82,974.54 A10.3,10.3 0 1 1 964.72,985.37 Z" fill="#000"/>
<circle cx="963.1" cy="975.2" r="5.6" fill="#fff"/>
<text x="963.1" y="978.2" font-family='"Liberation Sans", sans-serif' font-size="8" fill="#000" text-anchor="middle" textLength="7.84" lengthAdjust="spacingAndGlyphs">4</text>
<line x1="1036.2" y1="557" x2="1278.3" y2="557" stroke="#4a4a4a" stroke-width="1.82"/>
<line x1="1046.8" y1="550" x2="1046.8" y2="564.4" stroke="#4a4a4a" stroke-width="1.82"/>
<line x1="1051.3" y1="550" x2="1051.3" y2="564.4" stroke="#4a4a4a" stroke-width="1.82"/>
<text transform="translate(1061,554.8) scale(1,1)" x="0" y="0" font-family='"Liberation Sans", sans-serif' font-size="15.99" fill="#1a1a1a" textLength="15.5" lengthAdjust="spacingAndGlyphs">2"</text>
<line x1="1278.3" y1="557" x2="1278.3" y2="665.9" stroke="#4a4a4a" stroke-width="1.82"/>
<line x1="1036.2" y1="598.4" x2="1161.8" y2="598.4" stroke="#4a4a4a" stroke-width="1.82"/>
<line x1="1161.8" y1="598.4" x2="1161.8" y2="618.3" stroke="#4a4a4a" stroke-width="1.82"/>
<line x1="1046.8" y1="591.5" x2="1046.8" y2="605.5" stroke="#4a4a4a" stroke-width="1.82"/>
<line x1="1051.3" y1="591.5" x2="1051.3" y2="605.5" stroke="#4a4a4a" stroke-width="1.82"/>
<text transform="translate(1061,596.3) scale(1,1)" x="0" y="0" font-family='"Liberation Sans", sans-serif' font-size="15.99" fill="#1a1a1a" textLength="15.5" lengthAdjust="spacingAndGlyphs">2"</text>
<line x1="1036.2" y1="636.3" x2="1103.8" y2="636.3" stroke="#4a4a4a" stroke-width="1.82"/>
<line x1="1103.8" y1="636.3" x2="1103.8" y2="666.3" stroke="#4a4a4a" stroke-width="1.82"/>
<line x1="1046.8" y1="629.5" x2="1046.8" y2="643.5" stroke="#4a4a4a" stroke-width="1.82"/>
<line x1="1051.3" y1="629.5" x2="1051.3" y2="643.5" stroke="#4a4a4a" stroke-width="1.82"/>
<text transform="translate(1061,634.7) scale(1,1)" x="0" y="0" font-family='"Liberation Sans", sans-serif' font-size="15.99" fill="#1a1a1a" textLength="15.5" lengthAdjust="spacingAndGlyphs">2"</text>
<text transform="translate(1127.8,617.1) scale(0.86,1)" x="0" y="0" font-family='"Liberation Sans", sans-serif' font-size="13.08" fill="#1a1a1a" textLength="29.8" lengthAdjust="spacingAndGlyphs">MAG</text>
<circle cx="1161" cy="643.1" r="24.8" stroke="#4a4a4a" stroke-width="1.82" fill="none"/>
<text transform="translate(1155,639.5) scale(0.64,1)" x="0" y="0" font-family='"Liberation Sans", sans-serif' font-size="13.95" fill="#1a1a1a" textLength="18.61" lengthAdjust="spacingAndGlyphs">LG</text>
<text transform="translate(1150,657.8) scale(0.86,1)" x="0" y="0" font-family='"Liberation Sans", sans-serif' font-size="13.95" fill="#1a1a1a" textLength="25.58" lengthAdjust="spacingAndGlyphs">0002</text>
<path d="M1203.75,614.9 A13,15 0 1 1 1203.75,637.1 A13,15 0 1 1 1203.75,614.9 Z" fill="#fff" stroke="#222" stroke-width="1.5"/>
<path d="M1190.2,633.7 L1200.36,620.25 A10.2,10.2 0 1 1 1206.83,636.46 Z" fill="#000"/>
<circle cx="1208.5" cy="626.4" r="6" fill="#fff"/>
<text x="1208.5" y="629.4" font-family='"Liberation Sans", sans-serif' font-size="8" fill="#000" text-anchor="middle" textLength="8.4" lengthAdjust="spacingAndGlyphs">4</text>
<text transform="translate(1111.2,665) scale(0.86,1)" x="0" y="0" font-family='"Liberation Sans", sans-serif' font-size="13.95" fill="#1a1a1a" textLength="28.84" lengthAdjust="spacingAndGlyphs">DISP</text>
<text transform="translate(1169,679.4) scale(0.86,1)" x="0" y="0" font-family='"Liberation Sans", sans-serif' font-size="13.95" fill="#1a1a1a" textLength="43.02" lengthAdjust="spacingAndGlyphs">TYPE 3</text>
<line x1="1161" y1="667.9" x2="1161" y2="681.8" stroke="#4a4a4a" stroke-width="1.69"/>
<line x1="1036.2" y1="682" x2="1047" y2="682" stroke="#4a4a4a" stroke-width="1.82"/>
<line x1="1036.2" y1="698.2" x2="1047" y2="698.2" stroke="#4a4a4a" stroke-width="1.82"/>
<line x1="1047" y1="676" x2="1047" y2="705" stroke="#4a4a4a" stroke-width="1.82"/>
<line x1="1051.2" y1="676" x2="1051.2" y2="705" stroke="#4a4a4a" stroke-width="1.82"/>
<text transform="translate(1054,687.2) scale(0.78,1)" x="0" y="0" font-family='"Liberation Sans", sans-serif' font-size="13.95" fill="#1a1a1a" textLength="21.7" lengthAdjust="spacingAndGlyphs">MH</text>
<text transform="translate(1054,703.3) scale(0.98,1)" x="0" y="0" font-family='"Liberation Sans", sans-serif' font-size="14.53" fill="#1a1a1a" textLength="21.33" lengthAdjust="spacingAndGlyphs">24"</text>
<circle cx="1103.9" cy="690.6" r="24.3" stroke="#4a4a4a" stroke-width="1.82" fill="none"/>
<text transform="translate(1097.9,686.5) scale(0.79,1)" x="0" y="0" font-family='"Liberation Sans", sans-serif' font-size="13.95" fill="#1a1a1a" textLength="15.25" lengthAdjust="spacingAndGlyphs">LT</text>
<text transform="translate(1092.9,705) scale(0.86,1)" x="0" y="0" font-family='"Liberation Sans", sans-serif' font-size="13.95" fill="#1a1a1a" textLength="25.58" lengthAdjust="spacingAndGlyphs">0003</text>
<line x1="1128.2" y1="690.6" x2="1205.2" y2="690.6" stroke="#4a4a4a" stroke-width="1.82"/>
<circle cx="1151.4" cy="690.6" r="4.2" fill="#000"/>
<circle cx="1181.2" cy="690.6" r="4.2" fill="#000"/>
<line x1="1205.2" y1="690.6" x2="1205.2" y2="736.4" stroke="#4a4a4a" stroke-width="1.82"/>
<circle cx="1205.2" cy="714" r="4.2" fill="#000"/>
<path d="M1203.2,724 L1207.8,724 L1207.6,729 L1206.4,736.4 L1204,736.4 Z" fill="#000"/>
<line x1="1161.1" y1="698" x2="1161.1" y2="784.8" stroke="#4a4a4a" stroke-width="1.82"/>
<line x1="1036.2" y1="784.8" x2="1161.1" y2="784.8" stroke="#4a4a4a" stroke-width="1.82"/>
<line x1="1046.8" y1="778" x2="1046.8" y2="792" stroke="#4a4a4a" stroke-width="1.82"/>
<line x1="1051.3" y1="778" x2="1051.3" y2="792" stroke="#4a4a4a" stroke-width="1.82"/>
<text transform="translate(1061,780.6) scale(1,1)" x="0" y="0" font-family='"Liberation Sans", sans-serif' font-size="15.99" fill="#1a1a1a" textLength="15.5" lengthAdjust="spacingAndGlyphs">2"</text>
<line x1="1103.9" y1="714.9" x2="1103.9" y2="749.2" stroke="#4a4a4a" stroke-width="1.82"/>
<line x1="1036.2" y1="749.2" x2="1103.9" y2="749.2" stroke="#4a4a4a" stroke-width="1.82"/>
<line x1="1046.8" y1="742.5" x2="1046.8" y2="756.5" stroke="#4a4a4a" stroke-width="1.82"/>
<line x1="1051.3" y1="742.5" x2="1051.3" y2="756.5" stroke="#4a4a4a" stroke-width="1.82"/>
<text transform="translate(1061,745.8) scale(1,1)" x="0" y="0" font-family='"Liberation Sans", sans-serif' font-size="15.99" fill="#1a1a1a" textLength="15.5" lengthAdjust="spacingAndGlyphs">2"</text>
<text transform="translate(1114,727) scale(0.86,1)" x="0" y="0" font-family='"Liberation Sans", sans-serif' font-size="13.95" fill="#1a1a1a" textLength="41.86" lengthAdjust="spacingAndGlyphs">TYPE 3</text>
<rect x="1181.2" y="736.4" width="48.4" height="49" stroke="#4a4a4a" stroke-width="1.82" fill="none"/>
<circle cx="1205.4" cy="760.9" r="24.2" stroke="#4a4a4a" stroke-width="1.82" fill="none"/>
<line x1="1181.2" y1="760.9" x2="1229.6" y2="760.9" stroke="#4a4a4a" stroke-width="1.82"/>
<text transform="translate(1199.9,756.8) scale(0.89,1)" x="0" y="0" font-family='"Liberation Sans", sans-serif' font-size="14.83" fill="#1a1a1a" textLength="12.36" lengthAdjust="spacingAndGlyphs">LI</text>
<text transform="translate(1193.9,776.3) scale(0.86,1)" x="0" y="0" font-family='"Liberation Sans", sans-serif' font-size="14.83" fill="#1a1a1a" textLength="26.74" lengthAdjust="spacingAndGlyphs">0003</text>
<text transform="translate(1233.8,745.8) scale(0.69,1)" x="0" y="0" font-family='"Liberation Sans", sans-serif' font-size="12.35" fill="#1a1a1a" textLength="8.92" lengthAdjust="spacingAndGlyphs">H</text>
<text transform="translate(1233.8,784.8) scale(0.78,1)" x="0" y="0" font-family='"Liberation Sans", sans-serif' font-size="13.08" fill="#1a1a1a" textLength="7.28" lengthAdjust="spacingAndGlyphs">L</text>
<line x1="1036.2" y1="813.7" x2="1278.3" y2="813.7" stroke="#4a4a4a" stroke-width="1.82"/>
<line x1="1046.8" y1="807" x2="1046.8" y2="821" stroke="#4a4a4a" stroke-width="1.82"/>
<line x1="1051.3" y1="807" x2="1051.3" y2="821" stroke="#4a4a4a" stroke-width="1.82"/>
<text transform="translate(1061,809.5) scale(1,1)" x="0" y="0" font-family='"Liberation Sans", sans-serif' font-size="15.99" fill="#1a1a1a" textLength="15.5" lengthAdjust="spacingAndGlyphs">2"</text>
<line x1="1278.3" y1="715" x2="1278.3" y2="813.7" stroke="#4a4a4a" stroke-width="1.82"/>
<circle cx="1278.3" cy="690.4" r="24.5" stroke="#4a4a4a" stroke-width="1.82" fill="none"/>
<text transform="translate(1272.3,686) scale(0.79,1)" x="0" y="0" font-family='"Liberation Sans", sans-serif' font-size="13.95" fill="#1a1a1a" textLength="15.25" lengthAdjust="spacingAndGlyphs">LT</text>
<text transform="translate(1267.3,705) scale(0.86,1)" x="0" y="0" font-family='"Liberation Sans", sans-serif' font-size="13.95" fill="#1a1a1a" textLength="25.58" lengthAdjust="spacingAndGlyphs">0004</text>
<text transform="translate(1286.4,665.8) scale(0.86,1)" x="0" y="0" font-family='"Liberation Sans", sans-serif' font-size="14.53" fill="#1a1a1a" textLength="30.35" lengthAdjust="spacingAndGlyphs">DISP</text>
<text transform="translate(1286.4,727.2) scale(0.86,1)" x="0" y="0" font-family='"Liberation Sans", sans-serif' font-size="15.12" fill="#1a1a1a" textLength="43.72" lengthAdjust="spacingAndGlyphs">TYPE 3</text>
<line x1="1303" y1="690.4" x2="1312" y2="690.4" stroke="#4a4a4a" stroke-width="1.69"/>
<rect x="1319" y="688" width="12.5" height="5" rx="2.5" fill="#000"/>
<rect x="1331.4" y="665.8" width="50" height="48.6" stroke="#4a4a4a" stroke-width="1.82" fill="none"/>
<polygon points="1356.4,665.8 1381.4,690.1 1356.4,714.4 1331.4,690.1" stroke="#4a4a4a" stroke-width="1.82" fill="none" stroke-linejoin="miter"/>
<line x1="1331.4" y1="690.1" x2="1381.4" y2="690.1" stroke="#4a4a4a" stroke-width="1.43" stroke-dasharray="3,2"/>
<text transform="translate(1351.65,687.4) scale(0.63,1)" x="0" y="0" font-family='"Liberation Sans", sans-serif' font-size="15.99" fill="#1a1a1a" textLength="15.11" lengthAdjust="spacingAndGlyphs">IS</text>
<text transform="translate(1344.4,706.3) scale(0.86,1)" x="0" y="0" font-family='"Liberation Sans", sans-serif' font-size="15.99" fill="#1a1a1a" textLength="27.91" lengthAdjust="spacingAndGlyphs">0001</text>
<rect x="1381.4" y="688" width="11.5" height="5" rx="2.5" fill="#000"/>
<circle cx="1400.3" cy="690.4" r="3.5" stroke="#4a4a4a" stroke-width="1.82" fill="#fff"/>
<line x1="1410" y1="690.4" x2="1434.7" y2="690.4" stroke="#4a4a4a" stroke-width="1.69"/>
<rect x="1434.7" y="665.8" width="48.6" height="48.6" stroke="#4a4a4a" stroke-width="1.82" fill="none"/>
<circle cx="1459" cy="690.1" r="24.2" stroke="#4a4a4a" stroke-width="1.82" fill="none"/>
<line x1="1434.7" y1="690.1" x2="1483.3" y2="690.1" stroke="#4a4a4a" stroke-width="1.82"/>
<text transform="translate(1449,687.4) scale(0.61,1)" x="0" y="0" font-family='"Liberation Sans", sans-serif' font-size="15.99" fill="#1a1a1a" textLength="32.87" lengthAdjust="spacingAndGlyphs">XHS</text>
<text transform="translate(1444.75,706.3) scale(0.86,1)" x="0" y="0" font-family='"Liberation Sans", sans-serif' font-size="15.99" fill="#1a1a1a" textLength="33.14" lengthAdjust="spacingAndGlyphs">0001R</text>
<text transform="translate(1487.2,676.3) scale(0.86,1)" x="0" y="0" font-family='"Liberation Sans", sans-serif' font-size="15.26" fill="#1a1a1a" textLength="31.74" lengthAdjust="spacingAndGlyphs">RESET</text>
<line x1="1355.3" y1="714.4" x2="1355.3" y2="735.5" stroke="#4a4a4a" stroke-width="1.69"/>
<circle cx="1355.3" cy="739.2" r="3.4" stroke="#4a4a4a" stroke-width="1.82" fill="#fff"/>
<line x1="1355.3" y1="743" x2="1355.3" y2="778.8" stroke="#4a4a4a" stroke-width="1.69"/>
<rect x="1331.4" y="778.8" width="50" height="49.4" stroke="#4a4a4a" stroke-width="1.82" fill="none"/>
<circle cx="1356.4" cy="803.5" r="24.6" stroke="#4a4a4a" stroke-width="1.82" fill="none"/>
<line x1="1331.4" y1="802.7" x2="1381.4" y2="802.7" stroke="#4a4a4a" stroke-width="1.82"/>
<text transform="translate(1345.15,799.1) scale(0.86,1)" x="0" y="0" font-family='"Liberation Sans", sans-serif' font-size="15.12" fill="#1a1a1a" textLength="26.16" lengthAdjust="spacingAndGlyphs">LAHH</text>
<text transform="translate(1345.15,818.6) scale(0.86,1)" x="0" y="0" font-family='"Liberation Sans", sans-serif' font-size="15.12" fill="#1a1a1a" textLength="26.16" lengthAdjust="spacingAndGlyphs">0004</text>
<text transform="translate(1383.8,790.2) scale(0.72,1)" x="0" y="0" font-family='"Liberation Sans", sans-serif' font-size="15.26" fill="#1a1a1a" textLength="25.44" lengthAdjust="spacingAndGlyphs">S/D</text>
<rect x="1244" y="290.5" width="243.2" height="211.7" stroke="#2b2be0" stroke-width="2.4" fill="none"/>
<text x="1331" y="311.5" font-family='"Liberation Sans", sans-serif' font-size="18.44" font-weight="normal" fill="#e02424" textLength="68.5" lengthAdjust="spacingAndGlyphs">Legend</text>
<text x="1317.3" y="343.2" font-family='"Liberation Sans", sans-serif' font-size="19.27" font-weight="normal" fill="#2323d0" textLength="130.2" lengthAdjust="spacingAndGlyphs">Flushing/Drain</text>
<text x="1317.3" y="366.2" font-family='"Liberation Sans", sans-serif' font-size="18.72" font-weight="normal" fill="#2323d0" textLength="44.7" lengthAdjust="spacingAndGlyphs">Point</text>
<text x="1319" y="391" font-family='"Liberation Sans", sans-serif' font-size="18.72" font-weight="normal" fill="#2323d0" textLength="105.5" lengthAdjust="spacingAndGlyphs">Valve Open</text>
<text x="1319" y="426.4" font-family='"Liberation Sans", sans-serif' font-size="18.72" font-weight="normal" fill="#2323d0" textLength="108.5" lengthAdjust="spacingAndGlyphs">Valve Close</text>
<text x="1320" y="457" font-family='"Liberation Sans", sans-serif' font-size="19.27" font-weight="normal" fill="#2323d0" textLength="124" lengthAdjust="spacingAndGlyphs">Flow direction</text>
<text x="1320" y="483.4" font-family='"Liberation Sans", sans-serif' font-size="20.25" font-weight="normal" fill="#2323d0" textLength="153" lengthAdjust="spacingAndGlyphs">Temporary Valve</text>
<path d="M1284.5,337.5 Q1284,347 1273.5,353" fill="none" stroke="#e02424" stroke-width="2.4"/>
<polygon points="1269.5,355.2 1277.5,347.5 1278.5,354.5" stroke="#e02424" stroke-width="0.5" fill="#e02424" stroke-linejoin="miter"/>
<circle cx="1281.2" cy="386.2" r="9.4" stroke="#2cb52c" stroke-width="2.8" fill="none"/>
<circle cx="1283.3" cy="422.5" r="9.4" stroke="#8b3a3a" stroke-width="3" fill="none"/>
<line x1="1266.8" y1="451.3" x2="1300.8" y2="451.3" stroke="#e02424" stroke-width="2"/>
<polyline points="1288,443.5 1301.2,451.3 1288,459" stroke="#e02424" stroke-width="2" fill="none" stroke-linejoin="miter"/>
<polygon points="1270.5,468.5 1270.5,486 1284,477.3" stroke="#e02424" stroke-width="3.2" fill="none" stroke-linejoin="miter"/>
<polygon points="1297.5,468.5 1297.5,486 1284,477.3" stroke="#e02424" stroke-width="3.2" fill="none" stroke-linejoin="miter"/>
<g stroke="#1fdcf0" stroke-width="6" fill="none">
<path d="M214.6,621.2 H463.1" stroke-dasharray="20.5,6.5,18,6,18,6,18,6,18,6,18,6,18,6,18,6,18,6,18,6,18,6"/>
<path d="M214.6,684.5 H463.1" stroke-dasharray="20.5,6.5,18,6,18,6,18,6,18,6,18,6,18,6,18,6,18,6,18,6,18,6"/>
<path d="M217.6,618.2 V681.5" stroke-dasharray="11.4,6.4,17.3,7,17.4,4"/>
<path d="M460.1,618.2 V687.5" stroke-dasharray="16,9.6,15.4,8.5,19.2"/>
</g>
<line x1="109.5" y1="150" x2="72.7" y2="75.35" stroke="#ff0000" stroke-width="6.2"/>
<polygon points="65.8,59.3 64.4,79.5 81,71.2" stroke="#ff0000" stroke-width="1" fill="#ff0000" stroke-linejoin="miter"/>
<rect x="103" y="150.3" width="164.8" height="57.7" rx="0" stroke-linejoin="round" fill="#ffff00" stroke="#ff0000" stroke-width="6"/>
<text x="119.5" y="192" font-family='"Liberation Serif", serif' font-size="38.93" font-weight="bold" fill="#e60000" textLength="116.5" lengthAdjust="spacingAndGlyphs" stroke="#e60000" stroke-width="0.7">Labels</text>
<line x1="289" y1="82" x2="266.95" y2="61.15" stroke="#ff0000" stroke-width="6.2"/>
<polygon points="254,48.1 260.7,66.8 273.2,55.5" stroke="#ff0000" stroke-width="1" fill="#ff0000" stroke-linejoin="miter"/>
<rect x="288.6" y="71.2" width="380.4" height="43.2" rx="0" stroke-linejoin="round" fill="#ffff00" stroke="#ff0000" stroke-width="5.8"/>
<text x="303.4" y="101.7" font-family='"Liberation Serif", serif' font-size="25.19" font-weight="bold" fill="#e60000" textLength="348.1" lengthAdjust="spacingAndGlyphs" stroke="#e60000" stroke-width="0.7">Communication Signal Line</text>
<line x1="418" y1="752" x2="382.25" y2="700" stroke="#ff0000" stroke-width="6.2"/>
<polygon points="372,688 375.3,705 389.2,695" stroke="#ff0000" stroke-width="1" fill="#ff0000" stroke-linejoin="miter"/>
<rect x="254" y="751.8" width="331" height="80.8" rx="0" stroke-linejoin="round" fill="#ffff00" stroke="#ff0000" stroke-width="6"/>
<text x="269.3" y="785.8" font-family='"Liberation Serif", serif' font-size="27.79" font-weight="bold" fill="#e60000" textLength="300.7" lengthAdjust="spacingAndGlyphs" stroke="#e60000" stroke-width="0.7">Piping Identification</text>
<text x="295.8" y="818" font-family='"Liberation Serif", serif' font-size="27.79" font-weight="bold" fill="#e60000" textLength="247.7" lengthAdjust="spacingAndGlyphs" stroke="#e60000" stroke-width="0.7">With Dimensions</text>
<line x1="205" y1="850" x2="131.25" y2="693.05" stroke="#ff0000" stroke-width="6.2"/>
<polygon points="124,678 122.8,696.8 139.7,689.3" stroke="#ff0000" stroke-width="1" fill="#ff0000" stroke-linejoin="miter"/>
<rect x="166" y="850.7" width="269.6" height="46.1" rx="0" stroke-linejoin="round" fill="#ffff00" stroke="#ff0000" stroke-width="6"/>
<text x="180.3" y="883.2" font-family='"Liberation Serif", serif' font-size="28.4" font-weight="bold" fill="#e60000" textLength="213.7" lengthAdjust="spacingAndGlyphs" stroke="#e60000" stroke-width="0.7">Flow Direction</text>
<rect x="110.6" y="915" width="443.5" height="51.2" fill="#d00000"/>
<text x="119.2" y="953.9" font-family='"Liberation Serif", serif' font-size="37.4" font-weight="bold" fill="#fff" textLength="427.8" lengthAdjust="spacingAndGlyphs" stroke="#fff" stroke-width="0.6">AutomationForum.Co</text>
<path fill-rule="evenodd" fill="#ffff00" d="M3,0 H1533 Q1536,0 1536,3 V998 Q1536,1001 1533,1001 H3 Q0,1001 0,998 V3 Q0,0 3,0 Z M12,12 V989 H1524 V12 Z"/>
</svg></body></html>
